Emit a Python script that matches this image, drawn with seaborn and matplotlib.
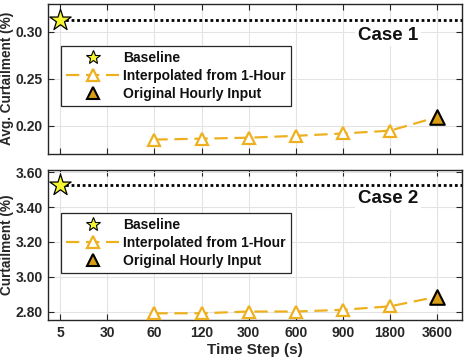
import numpy as np
import pandas as pd
import matplotlib
matplotlib.use('Agg')
import matplotlib.pyplot as plt
import seaborn as sns
from matplotlib.lines import Line2D

# data
time_steps = ['5', '30', '60', '120', '300', '600', '900', '1800', '3600']
interp_steps = ['60', '120', '300', '600', '900', '1800', '3600']

case1_baseline = 0.313
case1_interp = [0.185, 0.186, 0.187, 0.189, 0.1915, 0.1945, 0.209]
case1_hourly = 0.209

case2_baseline = 3.53
case2_interp = [2.79, 2.79, 2.80, 2.80, 2.81, 2.83, 2.885]
case2_hourly = 2.885

case_names = ['Case 1', 'Case 2']
ylabels = ['Avg. Curtailment (%)', 'Curtailment (%)']
ylims = [(0.17, 0.33), (2.75, 3.613)]
yticks = [[0.20, 0.25, 0.30], [2.80, 3.00, 3.20, 3.40, 3.60]]

orange = '#EDB120'
dark_orange = '#D99E14'
star_yellow = '#F5F532'

sns.set_theme(style='whitegrid')
plt.rcParams['font.family'] = ['Liberation Sans', 'DejaVu Sans']
plt.rcParams['font.weight'] = 'bold'
plt.rcParams['axes.labelweight'] = 'bold'

fig, axes = plt.subplots(2, 1, figsize=(4.74, 3.59), dpi=100)
fig.subplots_adjust(left=0.102, right=0.975, top=0.99, bottom=0.108, hspace=0.11)

pos = {s: i for i, s in enumerate(time_steps)}
cases = [
    (case1_baseline, case1_interp, case1_hourly),
    (case2_baseline, case2_interp, case2_hourly),
]

for k, ax in enumerate(axes):
    base, interp, hourly = cases[k]
    df = pd.DataFrame({'x': [pos[s] for s in interp_steps], 'y': interp})
    xmax = len(time_steps) - 1 + 0.53

    ax.hlines(base, pos['5'], xmax, colors='black', linestyles=(0, (1, 1)), linewidth=2, zorder=3)
    sns.lineplot(data=df, x='x', y='y', ax=ax, color=orange, linewidth=1.6,
                 dashes=False, linestyle=(0, (6, 3)), marker='^', markersize=9,
                 markerfacecolor='white', markeredgecolor=orange, markeredgewidth=1.6, zorder=4)
    sns.scatterplot(x=[pos['3600']], y=[hourly], ax=ax, marker='^', s=110,
                    color=dark_orange, edgecolor='black', linewidth=1.5, zorder=5)
    sns.scatterplot(x=[pos['5']], y=[base], ax=ax, marker='*', s=260,
                    color=star_yellow, edgecolor='black', linewidth=0.9, zorder=6, clip_on=False)

    ax.set_xlim(-0.25, xmax)
    ax.set_ylim(*ylims[k])
    ax.set_xticks(range(len(time_steps)))
    ax.set_yticks(yticks[k])
    ax.set_yticklabels([f'{v:.2f}' for v in yticks[k]], fontsize=10, fontweight='bold')
    ax.set_ylabel(ylabels[k], fontsize=9.8, fontweight='bold', labelpad=1)
    if k == 0:
        ax.set_xticklabels([])
        ax.set_xlabel('')
    else:
        ax.set_xticklabels(time_steps, fontsize=10, fontweight='bold')
        ax.set_xlabel('Time Step (s)', fontsize=11, fontweight='bold', labelpad=2)

    ax.grid(True, color='#E3E3E3', linewidth=0.8)
    ax.set_facecolor('white')
    for sp in ax.spines.values():
        sp.set_color('#262626')
        sp.set_linewidth(1.0)
    ax.tick_params(direction='in', length=4, width=0.8, color='#262626',
                   top=True, right=True, bottom=True, left=True, pad=4,
                   labelcolor='#262626')

    ax.text(0.894, 0.79 if k == 0 else 0.81, case_names[k], transform=ax.transAxes,
            ha='right', va='center', fontsize=13.5, fontweight='bold', color='#111111',
            bbox=dict(facecolor='white', edgecolor='none', pad=2), zorder=7)

    handles = [
        Line2D([], [], linestyle='none', marker='*', markersize=10,
               markerfacecolor=star_yellow, markeredgecolor='black', markeredgewidth=0.8),
        Line2D([], [], color=orange, linestyle=(0, (6, 3)), linewidth=1.6, marker='^',
               markersize=9, markerfacecolor='white', markeredgecolor=orange, markeredgewidth=1.6),
        Line2D([], [], linestyle='none', marker='^', markersize=9,
               markerfacecolor=dark_orange, markeredgecolor='black', markeredgewidth=1.5),
    ]
    labels = ['Baseline', 'Interpolated from 1-Hour', 'Original Hourly Input']
    leg = ax.legend(handles, labels, loc='upper left',
                    bbox_to_anchor=(0.015, 0.765 if k == 0 else 0.76),
                    fontsize=10, handlelength=3.8, handletextpad=0.3,
                    borderpad=0.35, labelspacing=0.3, frameon=True, fancybox=False,
                    framealpha=1, edgecolor='#262626')
    leg.get_frame().set_linewidth(0.9)
    for t in leg.get_texts():
        t.set_fontweight('bold')
        t.set_color('#111111')

fig.savefig('out.png', dpi=100)
